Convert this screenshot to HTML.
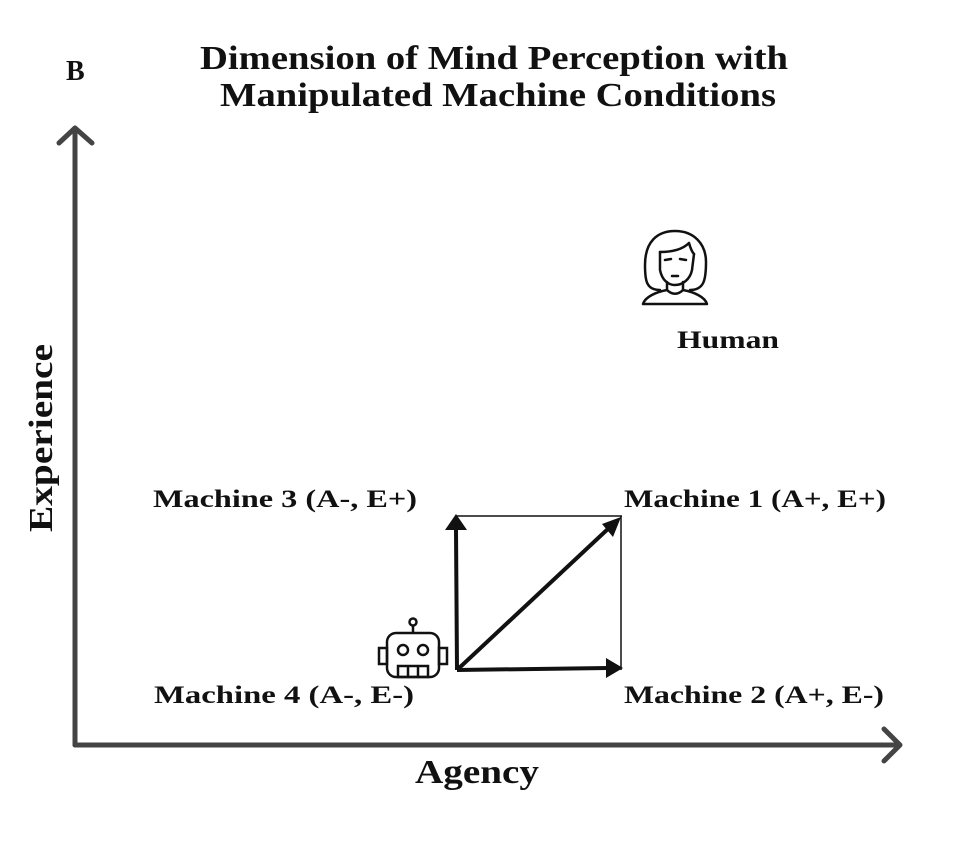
<!DOCTYPE html>
<html><head><meta charset="utf-8"><style>
html,body{margin:0;padding:0;background:#fff;}
svg{display:block;}
text{font-family:"Liberation Serif",serif;font-weight:bold;fill:#111;}
</style></head><body>
<svg width="980" height="844" viewBox="0 0 980 844" xmlns="http://www.w3.org/2000/svg">
<text x="66" y="80" font-size="28">B</text>
<text x="200" y="69" font-size="34" textLength="588" lengthAdjust="spacingAndGlyphs">Dimension of Mind Perception with</text>
<text x="220" y="106" font-size="34" textLength="556" lengthAdjust="spacingAndGlyphs">Manipulated Machine Conditions</text>
<g stroke="#444" stroke-width="5" fill="none" stroke-linecap="round" stroke-linejoin="round">
<line x1="75" y1="130" x2="75" y2="745"/>
<polyline points="59,143 75,128 92,143"/>
<line x1="75" y1="745" x2="898" y2="745"/>
<polyline points="884,729 900,745 884,761"/>
</g>
<text x="415" y="783" font-size="34" textLength="124" lengthAdjust="spacingAndGlyphs">Agency</text>
<text transform="translate(52,532) rotate(-90)" font-size="34" textLength="188" lengthAdjust="spacingAndGlyphs">Experience</text>
<text x="153" y="507" font-size="25" textLength="264" lengthAdjust="spacingAndGlyphs">Machine 3 (A-, E+)</text>
<text x="624" y="507" font-size="25" textLength="262" lengthAdjust="spacingAndGlyphs">Machine 1 (A+, E+)</text>
<text x="154" y="703" font-size="25" textLength="260" lengthAdjust="spacingAndGlyphs">Machine 4 (A-, E-)</text>
<text x="624" y="703" font-size="25" textLength="260" lengthAdjust="spacingAndGlyphs">Machine 2 (A+, E-)</text>
<text x="677" y="348" font-size="25" textLength="102" lengthAdjust="spacingAndGlyphs">Human</text>
<g stroke="#111" fill="none">
<line x1="456" y1="516" x2="622" y2="516" stroke-width="1.5"/>
<line x1="621" y1="516" x2="621" y2="670" stroke-width="1.5"/>
<line x1="457" y1="670" x2="456" y2="530" stroke-width="4"/>
<line x1="457" y1="670" x2="608" y2="668" stroke-width="4"/>
<line x1="457" y1="670" x2="610" y2="527" stroke-width="4"/>
</g>
<g fill="#111">
<polygon points="456,514 445,530 467,530"/>
<polygon points="623,668 606,658 606,678"/>
<polygon points="621,517 602,524 613,537"/>
</g>
<g stroke="#111" stroke-width="2.5" fill="none">
<circle cx="413" cy="622" r="3.5"/>
<line x1="413" y1="626" x2="413" y2="633"/>
<rect x="387" y="633" width="52" height="44" rx="9"/>
<rect x="379" y="648" width="8" height="16"/>
<rect x="439" y="648" width="8" height="16"/>
<circle cx="403" cy="650" r="5"/>
<circle cx="423" cy="650" r="5"/>
<rect x="398" y="666" width="30" height="11"/>
<line x1="408" y1="666" x2="408" y2="677"/>
<line x1="418" y1="666" x2="418" y2="677"/>
</g>
<g stroke="#111" stroke-width="2.5" fill="none" stroke-linecap="round" stroke-linejoin="round">
<path d="M660,290 C646,290 645,280 645,265 C645,242 657,231 675,231 C694,231 706,244 706,262 C706,280 704,290 690,290"/>
<path d="M660,252 C670,252 682,250 689,243 C691,250 693,253 694,254"/>
<path d="M660,252 L660,270 C662,280 668,285 675,285 C682,285 690,280 692,270 L694,254"/>
<path d="M667,282 L667,290 C656,292 645,297 643,304 L707,304 C705,297 694,292 683,290 L683,282"/>
<path d="M667,290 C672,295 678,295 683,290"/>
<line x1="665" y1="260" x2="671" y2="259"/>
<line x1="680" y1="259" x2="686" y2="260"/>
<line x1="672" y1="276" x2="678" y2="276"/>
</g>
</svg>
</body></html>
